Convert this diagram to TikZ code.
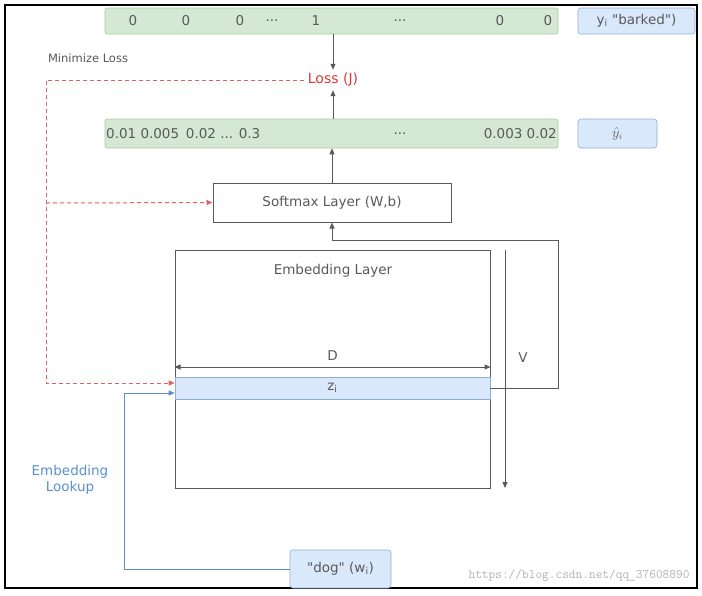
\documentclass[tikz,border=0pt]{standalone}
\usepackage{fontspec}
\setmainfont{DejaVu Sans}
\usetikzlibrary{arrows.meta}
\definecolor{txt}{gray}{0.35}
\definecolor{lg}{HTML}{D5E8D4}
\definecolor{lgd}{HTML}{A8CBA0}
\definecolor{lb}{HTML}{DAE8FC}
\definecolor{lbd}{HTML}{8FAED8}
\definecolor{rd}{HTML}{D9383A}
\definecolor{bl}{HTML}{5B8FD0}
\begin{document}
\begin{tikzpicture}[x=1pt,y=-1pt,font=\fontsize{13.5}{16}\selectfont,text=txt,
  gbar/.style={draw=lgd,fill=lg,rounded corners=2pt,line width=0.6pt},
  bbox/.style={draw=lbd,fill=lb,rounded corners=3pt,line width=0.6pt},
  ar/.style={draw=txt,line width=1pt,-{Triangle[length=6pt,width=5pt]}},
  rdash/.style={draw=rd!80,line width=1pt,dashed,dash pattern=on 4pt off 3pt,-{Triangle[length=6pt,width=5pt]}},
  bar/.style={draw=bl,line width=1pt,-{Triangle[length=6pt,width=5pt]}}]
\useasboundingbox (0,0) rectangle (702,595);
\draw[line width=1.5pt] (5,5) rectangle (697,588);
% top bar
\node[gbar,minimum width=453pt,minimum height=26pt] (ytrue) at (331.5,21) {};
\foreach \x/\t in {133/0,186/0,240/0,272/{...},316/1,400/{...},500/0,548/0}
  \node at (\x,21) {\t};
\node[bbox,minimum width=117pt,minimum height=26pt] (ylab) at (636.5,21) {y$_\mathrm{i}$ \textquotedbl barked\textquotedbl)};
\node (mini) at (88,58) {\fontsize{11.5}{13}\selectfont Minimize Loss};
\node[text=rd,font=\fontsize{14}{16}\selectfont] (loss) at (333,80) {Loss (J)};
% second bar
\node[gbar,minimum width=453pt,minimum height=29pt] (yhat) at (331.5,133.5) {};
\node[anchor=west,inner sep=1pt] at (105,133.5) {0.01 0.005\enspace 0.02 ... 0.3};
\node at (400,133.5) {...};
\node[anchor=east,inner sep=1pt] at (558,133.5) {0.003 0.02};
\node[bbox,minimum width=79pt,minimum height=29pt] (yhl) at (617.5,133.5) {$\hat{y}_i$};
\node[draw=txt,line width=1pt,minimum width=238pt,minimum height=39pt] (soft) at (332,202.5) {Softmax Layer (W,b)};
% embedding
\node[draw=txt,line width=1pt,minimum width=315pt,minimum height=238pt] (emb) at (332.5,369) {};
\node at (333,271) {Embedding Layer};
\node[draw=lbd,fill=lb,line width=0.6pt,minimum width=315pt,minimum height=22pt,inner sep=1pt] (z) at (332.5,388) {z$_\mathrm{i}$};
\draw[draw=txt,line width=1pt,{Triangle[length=6pt,width=5pt]}-{Triangle[length=6pt,width=5pt]}] (emb.west |- 0,367) -- node[above=3pt] {D} (emb.east |- 0,367);
\coordinate (vt) at (505,250); \coordinate (vb) at (505,488);
\draw[ar] (vt) -- (vb);
\node at (523,358) {V};
\node[bbox,minimum width=101pt,minimum height=38pt] (dog) at (340.5,569) {\textquotedbl dog\textquotedbl\ (w$_\mathrm{i}$)};
\node[text=bl] (el) at (70,480) {\begin{tabular}{c}Embedding\\Lookup\end{tabular}};
% connectors
\draw[ar] (ytrue.south -| loss) -- (loss.north);
\draw[ar] (yhat.north -| loss) -- (loss.south);
\draw[ar] (soft.north) -- (yhat.south -| soft);
\draw[ar] (z.east) -- (558,388) -- (558,240) -- (332,240) -- (soft.south);
\draw[rdash] (loss.west) -- (46,80) -- (46,383) -- (z.west |- 0,383);
\draw[rdash] (46,203) -- (soft.west);
\draw[bar] (dog.west) -- (124,569) -- (124,393) -- (z.west |- 0,393);
\node[text=gray!60,font=\ttfamily\fontsize{13}{15}\selectfont,anchor=east] at (693,575) {https://blog.csdn.net/qq\_37608890};
\end{tikzpicture}
\end{document}
